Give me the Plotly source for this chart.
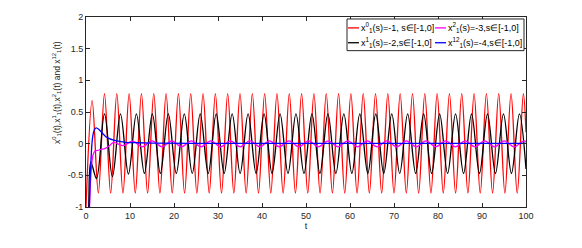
import plotly.graph_objects as go

# ---- data (extrema / key points) ----
red_t = [0, 1.4, 2.8, 4.2, 5.6, 7.0, 8.4, 9.8, 11.2, 12.6, 14.0, 15.4, 16.8, 18.2, 19.6,
         21.0, 22.4, 23.8, 25.2, 26.6, 28.0, 29.4, 30.8, 32.2, 33.6, 35.0, 36.4, 37.8,
         39.2, 40.6, 42.0, 43.4, 44.8, 46.2, 47.6, 49.0, 50.4, 51.8, 53.2, 54.6, 56.0,
         57.4, 58.8, 60.2, 61.6, 63.0, 64.4, 65.8, 67.2, 68.6, 70.0, 71.4, 72.8, 74.2,
         75.6, 77.0, 78.4, 79.8, 81.2, 82.6, 84.0, 85.4, 86.8, 88.2, 89.6, 91.0, 92.4,
         93.8, 95.2, 96.6, 98.0, 99.4, 100]
red_y = [-1.0, 0.68, -0.78, 0.79, -0.78, 0.79, -0.78, 0.79, -0.78, 0.79, -0.78, 0.79,
         -0.78, 0.79, -0.78, 0.79, -0.78, 0.79, -0.78, 0.79, -0.78, 0.79, -0.78, 0.79,
         -0.78, 0.79, -0.78, 0.79, -0.78, 0.79, -0.78, 0.79, -0.78, 0.79, -0.78, 0.79,
         -0.78, 0.79, -0.78, 0.79, -0.78, 0.79, -0.78, 0.79, -0.78, 0.79, -0.78, 0.79,
         -0.78, 0.79, -0.78, 0.79, -0.78, 0.79, -0.78, 0.79, -0.78, 0.79, -0.78, 0.79,
         -0.78, 0.79, -0.78, 0.79, -0.78, 0.79, -0.78, 0.79, -0.78, 0.79, -0.78, 0.79,
         0.18]

black_t = [0, 0.6, 1.1, 2.39, 4.20, 6.01, 7.83, 9.64, 11.45, 13.27, 15.08, 16.89, 18.71,
           20.52, 22.34, 24.15, 25.96, 27.78, 29.59, 31.40, 33.22, 35.03, 36.84, 38.66,
           40.47, 42.28, 44.10, 45.91, 47.72, 49.54, 51.35, 53.16, 54.98, 56.79, 58.60,
           60.42, 62.23, 64.05, 65.86, 67.67, 69.49, 71.30, 73.11, 74.93, 76.74, 78.55,
           80.37, 82.18, 83.99, 85.81, 87.62, 89.43, 91.25, 93.06, 94.88, 96.69, 98.50, 100]
black_y = [-2.0, -1.0, -0.29, -0.55, 0.47, -0.52, 0.47, -0.48, 0.47, -0.47, 0.47, -0.47,
           0.47, -0.47, 0.47, -0.47, 0.47, -0.47, 0.47, -0.47, 0.47, -0.47, 0.47, -0.47,
           0.47, -0.47, 0.47, -0.47, 0.47, -0.47, 0.47, -0.47, 0.47, -0.47, 0.47, -0.47,
           0.47, -0.47, 0.47, -0.47, 0.47, -0.47, 0.47, -0.47, 0.47, -0.47, 0.47, -0.47,
           0.47, -0.47, 0.47, -0.47, 0.47, -0.47, 0.47, -0.47, 0.47, -0.40]

pink_t = [0, 0.5, 0.8, 1.2, 1.6, 2.0, 3.0, 4.5, 5.5, 6.3, 8.4, 10.60, 12.82, 15.05, 17.27,
          19.49, 21.71, 23.94, 26.16, 28.38, 30.60, 32.83, 35.05, 37.27, 39.49, 41.72,
          43.94, 46.16, 48.38, 50.61, 52.83, 55.05, 57.27, 59.50, 61.72, 63.94, 66.16,
          68.39, 70.61, 72.83, 75.05, 77.28, 79.50, 81.72, 83.94, 86.17, 88.39, 90.61,
          92.83, 95.06, 97.28, 99.50, 100]
pink_y = [-3.0, -1.6, -1.0, -0.4, -0.18, -0.12, -0.10, -0.07, -0.02, 0.02, -0.03,
          0.04, -0.05, 0.045, -0.05, 0.045, -0.05, 0.045, -0.05, 0.045, -0.05, 0.045,
          -0.05, 0.045, -0.05, 0.045, -0.05, 0.045, -0.05, 0.045, -0.05, 0.045, -0.05,
          0.045, -0.05, 0.045, -0.05, 0.045, -0.05, 0.045, -0.05, 0.045, -0.05, 0.045,
          -0.05, 0.045, -0.05, 0.045, -0.05, 0.045, -0.05, 0.045, 0.035]

blue_t = [0, 0.5, 0.75, 1.1, 1.5, 1.9, 2.3, 3.0, 3.8, 4.5, 5.3, 6.1, 7.6, 9.0, 11.4, 15,
          25, 100]
blue_y = [-4.0, -2.0, -1.0, -0.3, 0.1, 0.22, 0.25, 0.22, 0.16, 0.11, 0.08, 0.06, 0.035,
          0.02, 0.015, 0.01, 0.005, 0.005]

x_ticks = [0, 10, 20, 30, 40, 50, 60, 70, 80, 90, 100]
y_ticks = [-1, -0.5, 0, 0.5, 1, 1.5, 2]
y_tick_labels = ["-1", "-0.5", "0", "0.5", "1", "1.5", "2"]

names = {
    "red": "x<sup>0</sup><sub>1</sub>(s)=-1, s\u2208[-1,0]",
    "black": "x<sup>1</sup><sub>1</sub>(s)=-2,s\u2208[-1,0]",
    "pink": "x<sup>2</sup><sub>1</sub>(s)=-3,s\u2208[-1,0]",
    "blue": "x<sup>12</sup><sub>1</sub>(s)=-4,s\u2208[-1,0]",
}
colors = {"red": "#FF0000", "black": "#000000", "pink": "#FF00FF", "blue": "#0000FF"}

FONT = "Liberation Sans, Arial, sans-serif"
AX = "#262626"

fig = go.Figure()
series = [("red", red_t, red_y), ("black", black_t, black_y),
          ("pink", pink_t, pink_y), ("blue", blue_t, blue_y)]
for key, t, y in series:
    fig.add_trace(go.Scatter(x=t, y=y, mode="lines", name=names[key], showlegend=False,
                             line=dict(color=colors[key], width=1.3, shape="spline",
                                       smoothing=1)))

# ---- hand-built legend (2 x 2 grid, short line samples) ----
def px_x(p):
    return (p - 86) / 440.0

def px_y(p):
    return (207 - p) / 192.0

shapes = [dict(type="rect", xref="paper", yref="paper",
               x0=px_x(347), x1=px_x(524), y0=px_y(49), y1=px_y(17),
               line=dict(color=AX, width=1), fillcolor="white", layer="above")]
annotations = []
legend_layout = [("red", 348, 26), ("pink", 435, 26), ("black", 348, 41), ("blue", 435, 41)]
for key, lx, ly in legend_layout:
    shapes.append(dict(type="line", xref="paper", yref="paper",
                       x0=px_x(lx), x1=px_x(lx + 11), y0=px_y(ly), y1=px_y(ly),
                       line=dict(color=colors[key], width=1.3), layer="above"))
    annotations.append(dict(text=names[key], xref="paper", yref="paper",
                            x=px_x(lx + 11), y=px_y(ly), xanchor="left", yanchor="middle",
                            showarrow=False, font=dict(family=FONT, size=9, color="#000000")))

annotations.append(dict(
    text="x<sup>0</sup><sub>1</sub>(t),x<sup>1</sup><sub>1</sub>(t),x<sup>2</sup><sub>1</sub>(t) and x<sup>12</sup><sub>1</sub>(t)",
    xref="paper", yref="paper", x=-0.068, y=0.6, textangle=-90,
    showarrow=False, font=dict(family=FONT, size=8.5, color=AX),
    xanchor="center", yanchor="middle"))

axis_common = dict(showline=True, linecolor=AX, linewidth=1, mirror="ticks",
                   ticks="inside", ticklen=4, tickcolor=AX, showgrid=False,
                   zeroline=False, tickfont=dict(family=FONT, size=9, color=AX))

fig.update_layout(
    width=582, height=248,
    margin=dict(l=86, r=56, t=15, b=41),
    paper_bgcolor="white", plot_bgcolor="white",
    font=dict(family=FONT, size=9, color=AX),
    showlegend=False,
    xaxis=dict(range=[0, 100], tickvals=x_ticks, ticktext=[str(v) for v in x_ticks],
               title=dict(text="t", font=dict(family=FONT, size=9, color=AX), standoff=2),
               **axis_common),
    yaxis=dict(range=[-1, 2], tickvals=y_ticks, ticktext=y_tick_labels, **axis_common),
    shapes=shapes,
    annotations=annotations,
)

fig.write_html("out.html")
